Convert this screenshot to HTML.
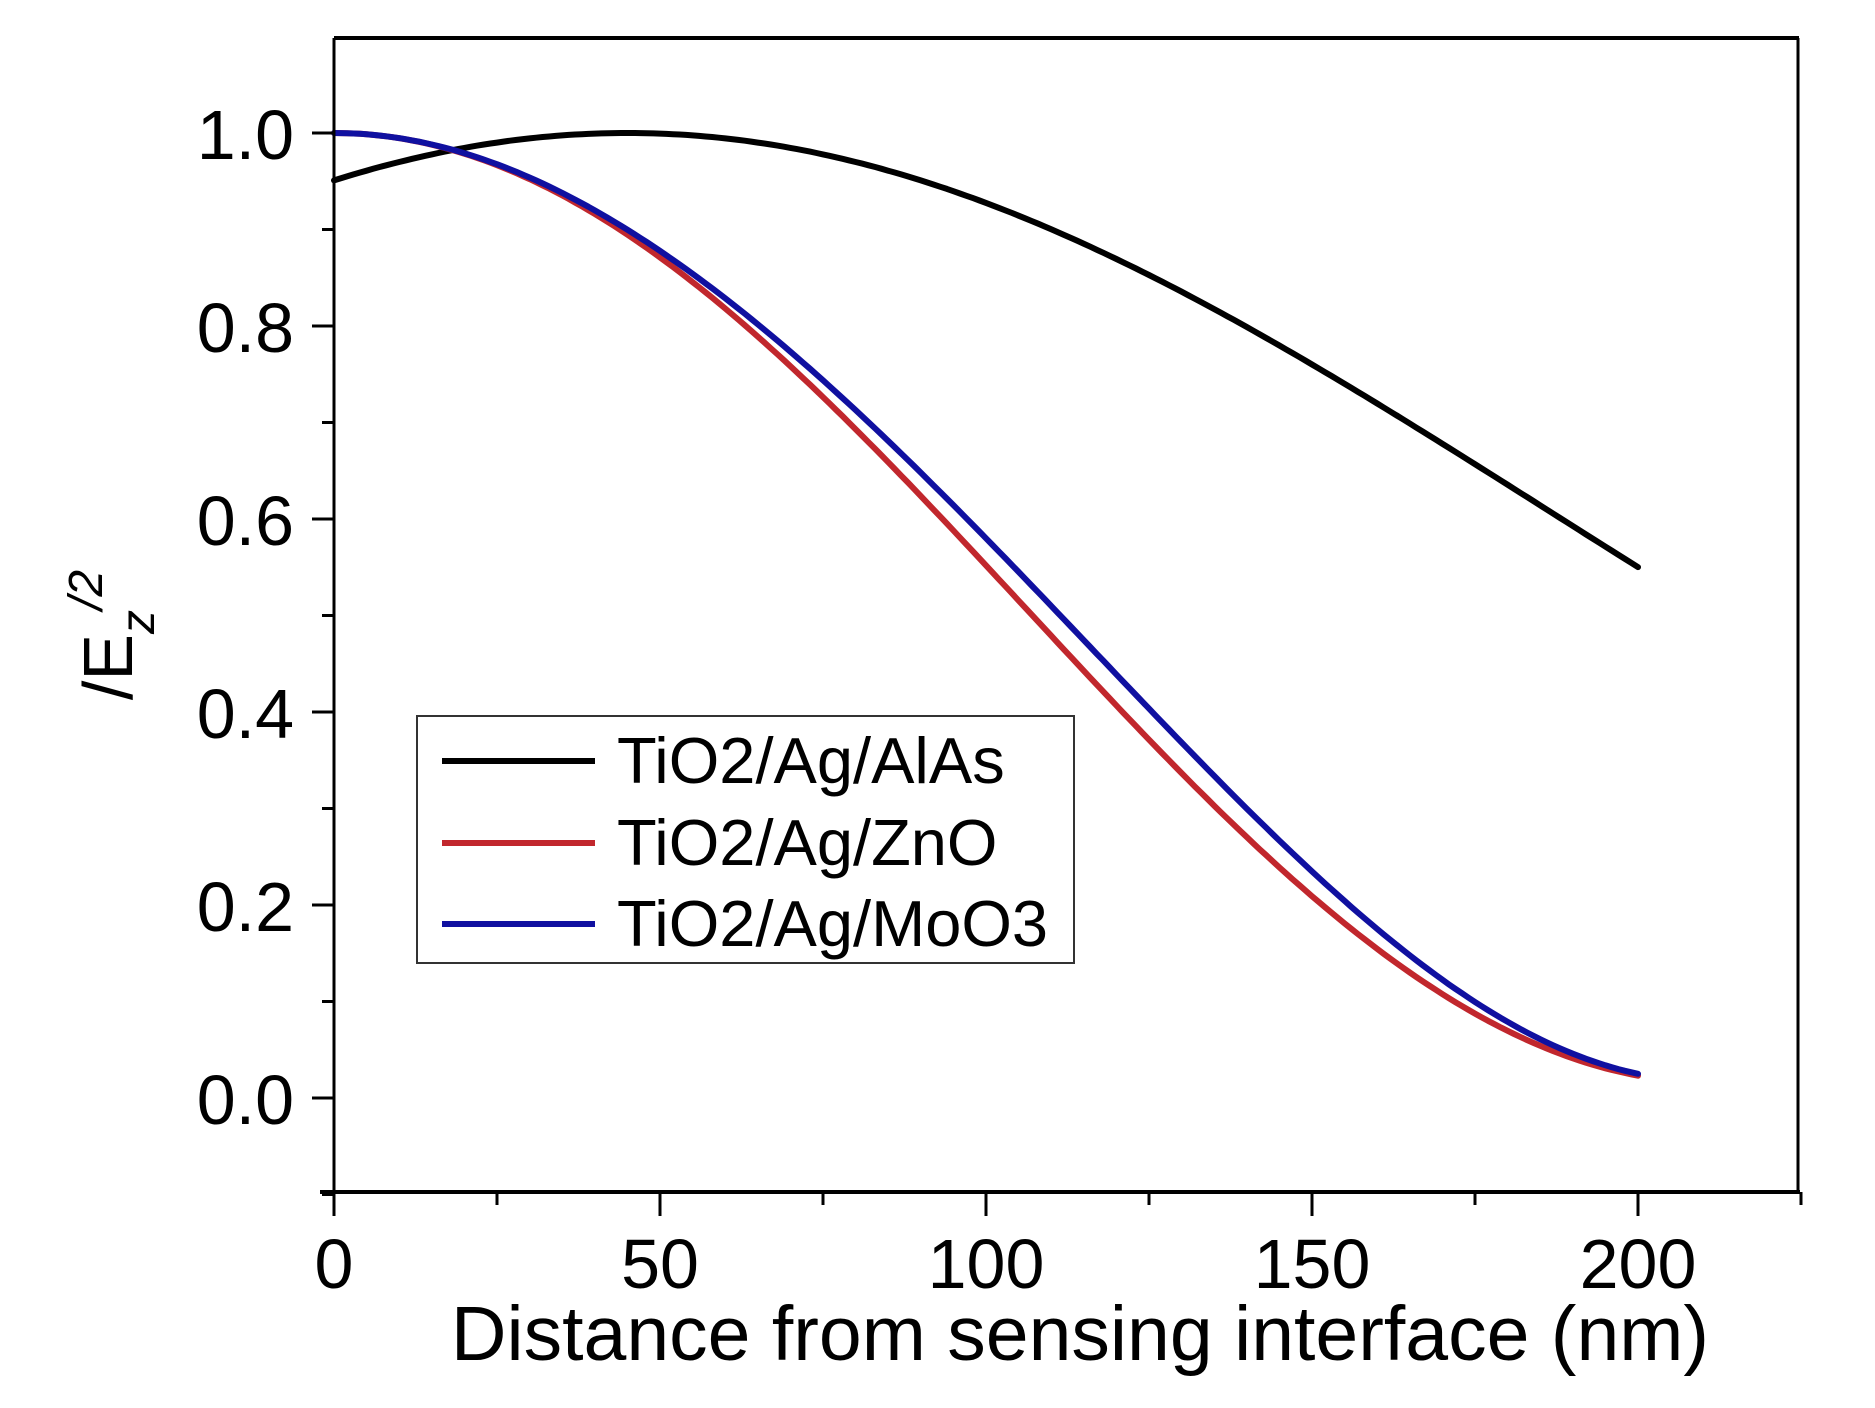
<!DOCTYPE html>
<html><head><meta charset="utf-8"><style>
html,body{margin:0;padding:0;background:#fff;}
svg{display:block;font-family:"Liberation Sans",Arial,sans-serif;}
</style></head><body>
<svg id="s" width="1875" height="1408" viewBox="0 0 1875 1408" xmlns="http://www.w3.org/2000/svg">
<rect width="1875" height="1408" fill="#fff"/>
<g id="curves" fill="none" stroke-width="6" stroke-linejoin="round" stroke-linecap="round"></g>
<line x1="334" y1="38" x2="1799" y2="38" stroke="#000" stroke-width="4"/>
<line x1="1798" y1="38" x2="1798" y2="1192" stroke="#000" stroke-width="3"/>
<line x1="334" y1="38" x2="334" y2="1192" stroke="#000" stroke-width="3"/>
<line x1="320" y1="1192" x2="1800" y2="1192" stroke="#000" stroke-width="4"/>
<g id="ticks" stroke="#000" stroke-width="3"></g>
<g font-size="70" text-anchor="end" fill="#000">
<text x="294" y="159">1.0</text>
<text x="294" y="352">0.8</text>
<text x="294" y="545">0.6</text>
<text x="294" y="738">0.4</text>
<text x="294" y="931">0.2</text>
<text x="294" y="1124">0.0</text>
</g>
<g font-size="70" text-anchor="middle" fill="#000">
<text x="334" y="1288">0</text>
<text x="660" y="1288">50</text>
<text x="986" y="1288">100</text>
<text x="1312" y="1288">150</text>
<text x="1638" y="1288">200</text>
</g>
<text x="1080" y="1360" font-size="77" text-anchor="middle" fill="#000">Distance from sensing interface (nm)</text>
<text transform="translate(132,635) rotate(-90)" font-size="70" text-anchor="middle" fill="#000">/E<tspan font-size="48" font-style="italic" dy="22">z</tspan><tspan font-size="48" font-style="italic" dy="-52">/2</tspan></text>
<rect x="417" y="716" width="657" height="247" fill="#fff" stroke="#333" stroke-width="2"/>
<line x1="442" y1="761" x2="595" y2="761" stroke="#000" stroke-width="6"/>
<line x1="442" y1="843" x2="595" y2="843" stroke="#c1272d" stroke-width="6"/>
<line x1="442" y1="924" x2="595" y2="924" stroke="#1010a0" stroke-width="6"/>
<g font-size="65" fill="#000">
<text x="617" y="783">TiO2/Ag/AlAs</text>
<text x="617" y="865">TiO2/Ag/ZnO</text>
<text x="617" y="946">TiO2/Ag/MoO3</text>
</g>
</svg>
<script>
var X=function(x){return 334+x*6.52;}, Y=function(v){return 1098-v*965;};
var ns="http://www.w3.org/2000/svg";
function add(d,c){var p=document.createElementNS(ns,"path");p.setAttribute("d",d);p.setAttribute("stroke",c);document.getElementById("curves").appendChild(p);}
function curve(f){var d="";for(var x=0;x<=200;x+=1){d+=(x?" L":"M")+X(x).toFixed(1)+","+Y(f(x)).toFixed(1);}return d;}
add(curve(function(x){return Math.exp(-Math.pow((x-45)/200.5,2));}),"#000");
add(curve(function(x){var c=Math.cos(Math.PI*x/(2*213.7));return c*c+0.013*Math.pow(x/200,3);}),"#c1272d");
add(curve(function(x){var L=213.7+8.5*Math.sin(Math.PI*x/200);var c=Math.cos(Math.PI*x/(2*L));return c*c+0.015*Math.pow(x/200,3);}),"#1010a0");
var tk=document.getElementById("ticks"),h="";
for(var i=0;i<=11;i++){var y=1098+96.5-i*96.5;var major=(i%2==1);h+='<line x1="'+(major?312:322)+'" y1="'+y+'" x2="334" y2="'+y+'"/>';}
for(var i=0;i<=9;i++){var x=334+i*163;var major=(i%2==0);h+='<line x1="'+x+'" y1="1192" x2="'+x+'" y2="'+(major?1216:1205)+'"/>';}
tk.innerHTML=h;
</script>
</body></html>
